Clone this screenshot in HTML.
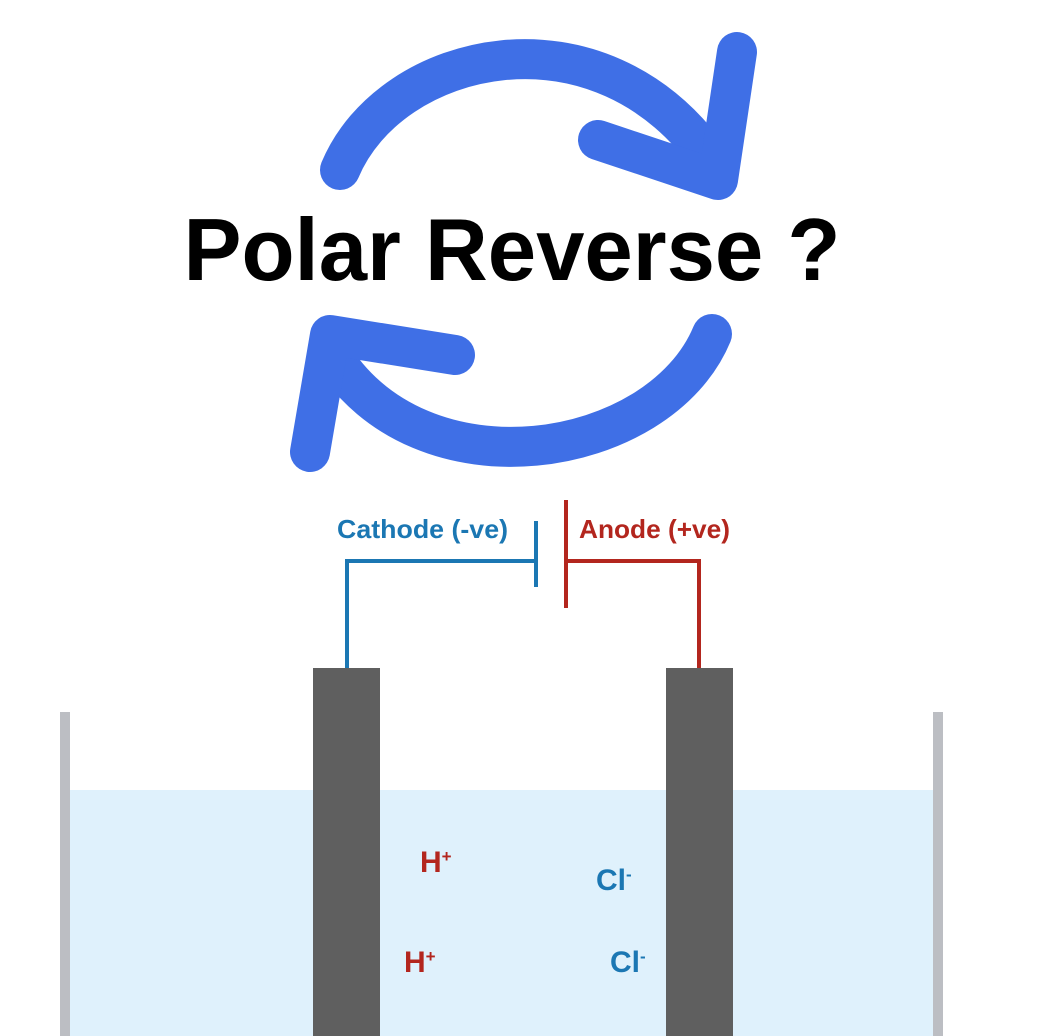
<!DOCTYPE html>
<html><head><style>
body{margin:0;width:1038px;height:1036px;background:#fff;overflow:hidden;position:relative;font-family:"Liberation Sans",sans-serif}
</style></head><body>
<svg width="1038" height="1036" viewBox="0 0 1038 1036" style="position:absolute;left:0;top:0">
<rect x="66" y="790" width="872" height="246" fill="#dff1fc"/>
<rect x="60" y="712" width="10" height="324" fill="#bcbec3"/>
<rect x="933" y="712" width="10" height="324" fill="#bcbec3"/>
<rect x="313" y="668" width="67" height="368" fill="#5f5f5f"/>
<rect x="666" y="668" width="67" height="368" fill="#5f5f5f"/>
<g fill="none" stroke-width="4">
<path d="M347 668 V561 H536" stroke="#1b77b3"/>
<path d="M536 521 V587" stroke="#1b77b3"/>
<path d="M566 500 V608" stroke="#b3261e"/>
<path d="M566 561 H699 V668" stroke="#b3261e"/>
</g>
<text x="337" y="538" font-size="26" font-weight="bold" fill="#1b77b3" textLength="171" lengthAdjust="spacingAndGlyphs">Cathode (-ve)</text>
<text x="579" y="538" font-size="26" font-weight="bold" fill="#b3261e" textLength="151" lengthAdjust="spacingAndGlyphs">Anode (+ve)</text>
<g font-size="30" font-weight="bold">
<text x="420" y="872" fill="#b3261e">H<tspan font-size="17" dy="-10">+</tspan></text>
<text x="404" y="972" fill="#b3261e">H<tspan font-size="17" dy="-10">+</tspan></text>
<text x="596" y="890" fill="#1b77b3">Cl<tspan font-size="17" dy="-10">-</tspan></text>
<text x="610" y="972" fill="#1b77b3">Cl<tspan font-size="17" dy="-10">-</tspan></text>
</g>
<g fill="none" stroke="#3f6fe6" stroke-width="40" stroke-linecap="round" stroke-linejoin="round">
<path d="M340 170 C390 50 600 0 712 162"/>
<path d="M737 52 L718 180 L598 140"/>
<path d="M712 334 C660 460 420 500 330 352"/>
<path d="M310 452 L330 335 L455 355"/>
</g>
<text x="512" y="280" text-anchor="middle" font-size="88" font-weight="bold" fill="#000" textLength="657" lengthAdjust="spacingAndGlyphs">Polar Reverse ?</text>
</svg>
</body></html>
